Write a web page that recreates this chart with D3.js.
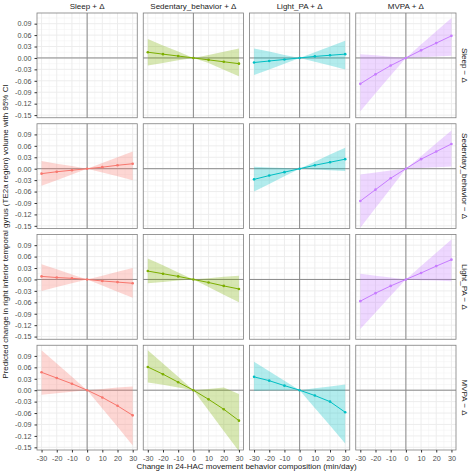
<!DOCTYPE html>
<html>
<head>
<meta charset="utf-8">
<script src="https://cdn.jsdelivr.net/npm/d3@7"></script>
<style>
body{margin:0;background:#fff;}
text{font-family:"Liberation Sans",Arial,sans-serif;}
</style>
</head>
<body>
<svg id="c" width="474" height="474"></svg>
<script>
var cols = ["Sleep + \u0394","Sedentary_behavior + \u0394","Light_PA + \u0394","MVPA + \u0394"];
var rows = ["Sleep \u2212 \u0394","Sedentary_behavior \u2212 \u0394","Light_PA \u2212 \u0394","MVPA \u2212 \u0394"];
var colors = ["#F8766D","#7CAE00","#00BFC4","#C77CFF"];
var xs = [-30,-20,-10,0,10,20,30];
var xTicks = [-30,-20,-10,0,10,20,30];
var yTicks = [0.09,0.06,0.03,0,-0.03,-0.06,-0.09,-0.12,-0.15];

// est / lo / hi per panel [row][col], null = empty
var est = [
 [null,[0.015,0.010,0.005,0,-0.005,-0.010,-0.015],[-0.012,-0.008,-0.004,0,0.004,0.007,0.010],[-0.068,-0.043,-0.020,0,0.020,0.039,0.058]],
 [[-0.013,-0.008,-0.004,0,0.004,0.009,0.013],null,[-0.028,-0.018,-0.009,0,0.009,0.017,0.025],[-0.085,-0.055,-0.025,0,0.025,0.045,0.065]],
 [[0.008,0.005,0.003,0,-0.004,-0.007,-0.010],[0.022,0.015,0.008,0,-0.008,-0.017,-0.025],null,[-0.057,-0.036,-0.017,0,0.017,0.035,0.052]],
 [[0.047,0.032,0.017,0,-0.019,-0.041,-0.066],[0.061,0.042,0.021,0,-0.024,-0.050,-0.080],[0.035,0.025,0.012,0,-0.014,-0.030,-0.058],null]
];
var lo = [
 [null,[-0.020,-0.013,-0.006,0,-0.013,-0.031,-0.048],[-0.045,-0.030,-0.015,0,-0.010,-0.020,-0.030],[-0.140,-0.093,-0.046,0,0.002,0.004,0.006]],
 [[-0.045,-0.030,-0.015,0,-0.010,-0.020,-0.030],null,[-0.060,-0.040,-0.020,0,-0.002,-0.004,-0.006],[-0.155,-0.103,-0.052,0,0.002,0.004,0.006]],
 [[-0.030,-0.020,-0.010,0,-0.016,-0.032,-0.048],[-0.010,-0.007,-0.003,0,-0.020,-0.040,-0.060],null,[-0.130,-0.087,-0.043,0,-0.002,-0.003,-0.005]],
 [[-0.012,-0.008,-0.004,0,-0.048,-0.096,-0.145],[0.020,0.014,0.007,0,-0.053,-0.107,-0.160],[-0.002,-0.001,-0.001,0,-0.047,-0.093,-0.140],null]
];
var hi = [
 [null,[0.050,0.033,0.017,0,0.008,0.016,0.025],[0.025,0.017,0.008,0,0.015,0.030,0.045],[0.010,0.007,0.003,0,0.035,0.070,0.105]],
 [[0.020,0.013,0.007,0,0.015,0.030,0.045],null,[0.005,0.003,0.002,0,0.018,0.037,0.055],[-0.015,-0.010,-0.005,0,0.033,0.067,0.100]],
 [[0.040,0.027,0.013,0,0.010,0.020,0.030],[0.055,0.037,0.018,0,0.003,0.007,0.010],null,[0.015,0.010,0.005,0,0.035,0.070,0.105]],
 [[0.105,0.070,0.035,0,0.003,0.007,0.010],[0.105,0.070,0.035,0,0.003,0.007,-0.010],[0.075,0.050,0.025,0,0.005,0.010,0.015],null]
];

var svg = d3.select("#c");
var L = 37, R = 456, T = 13, B = 450, gap = 6;
var pw = (R - L - 3*gap)/4, ph = (B - T - 3*gap)/4;
var x = d3.scaleLinear().domain([-33,33]).range([0,pw]);
var y = d3.scaleLinear().domain([-0.157,0.118]).range([ph,0]);

for (var r=0;r<4;r++) for (var c=0;c<4;c++){
  var g = svg.append("g").attr("transform","translate("+(L+c*(pw+gap))+","+(T+r*(ph+gap))+")");
  g.selectAll(".mx").data(d3.range(-35,36,5).filter(function(v){return v%10!==0 && Math.abs(v)<33;}))
   .enter().append("line").attr("x1",x).attr("x2",x).attr("y1",0).attr("y2",ph).attr("stroke","#f0f0f0").attr("stroke-width",0.5);
  g.selectAll(".my").data(yTicks.map(function(v){return v+0.015;}))
   .enter().append("line").attr("y1",y).attr("y2",y).attr("x1",0).attr("x2",pw).attr("stroke","#f0f0f0").attr("stroke-width",0.5);
  g.selectAll(".gx").data(xTicks).enter().append("line").attr("x1",x).attr("x2",x).attr("y1",0).attr("y2",ph).attr("stroke","#ebebeb").attr("stroke-width",0.9);
  g.selectAll(".gy").data(yTicks).enter().append("line").attr("y1",y).attr("y2",y).attr("x1",0).attr("x2",pw).attr("stroke","#ebebeb").attr("stroke-width",0.9);
  g.append("line").attr("x1",x(0)).attr("x2",x(0)).attr("y1",0).attr("y2",ph).attr("stroke","#8a8a8a");
  g.append("line").attr("y1",y(0)).attr("y2",y(0)).attr("x1",0).attr("x2",pw).attr("stroke","#8a8a8a");
  var e = est[r][c];
  if (e){
    var col = colors[c], l = lo[r][c], h = hi[r][c];
    var pts = xs.map(function(v,i){return {x:v,e:e[i],lo:l[i],hi:h[i]};});
    g.append("path").datum(pts).attr("fill",col).attr("opacity",0.3)
     .attr("d",d3.area().x(function(d){return x(d.x);}).y0(function(d){return y(d.lo);}).y1(function(d){return y(d.hi);}));
    g.append("path").datum(pts).attr("fill","none").attr("stroke",col).attr("stroke-width",1)
     .attr("d",d3.line().x(function(d){return x(d.x);}).y(function(d){return y(d.e);}));
    g.selectAll(".pt").data(pts).enter().append("circle").attr("cx",function(d){return x(d.x);}).attr("cy",function(d){return y(d.e);}).attr("r",1.3).attr("fill",col);
  }
  g.append("rect").attr("width",pw).attr("height",ph).attr("fill","none").attr("stroke","#7f7f7f").attr("stroke-width",0.8);
  if (c===0){
    var ya = g.append("g").call(d3.axisLeft(y).tickValues(yTicks).tickSize(2.5).tickFormat(d3.format(".2f")));
    ya.select(".domain").remove();
    ya.selectAll("line").attr("stroke","#333");
    ya.selectAll("text").attr("font-size",7.2).attr("fill","#4d4d4d").text(function(d){return d3.format(".2f")(d).replace("\u2212","-");});
  }
  if (r===3){
    var xa = g.append("g").attr("transform","translate(0,"+ph+")").call(d3.axisBottom(x).tickValues(xTicks).tickSize(2.5));
    xa.select(".domain").remove();
    xa.selectAll("line").attr("stroke","#333");
    xa.selectAll("text").attr("font-size",7.2).attr("fill","#4d4d4d").text(function(d){return String(d);});
  }
  if (r===0) g.append("text").attr("x",pw/2).attr("y",-4).attr("text-anchor","middle").attr("font-size",8).attr("fill","#1a1a1a").text(cols[c]);
  if (c===3) g.append("text").attr("transform","translate("+(pw+6)+","+(ph/2)+") rotate(90)").attr("text-anchor","middle").attr("font-size",8).attr("fill","#1a1a1a").text(rows[r]);
}
svg.append("text").attr("x",(L+R)/2).attr("y",469).attr("text-anchor","middle").attr("font-size",8).attr("fill","#1a1a1a").text("Change in 24-HAC movement behavior composition (min/day)");
svg.append("text").attr("transform","translate(8,"+((T+B)/2)+") rotate(-90)").attr("text-anchor","middle").attr("font-size",8).attr("fill","#1a1a1a").text("Predicted change in right inferior temporal gyrus (TE2a region) volume with 95% CI");
</script>
</body>
</html>
